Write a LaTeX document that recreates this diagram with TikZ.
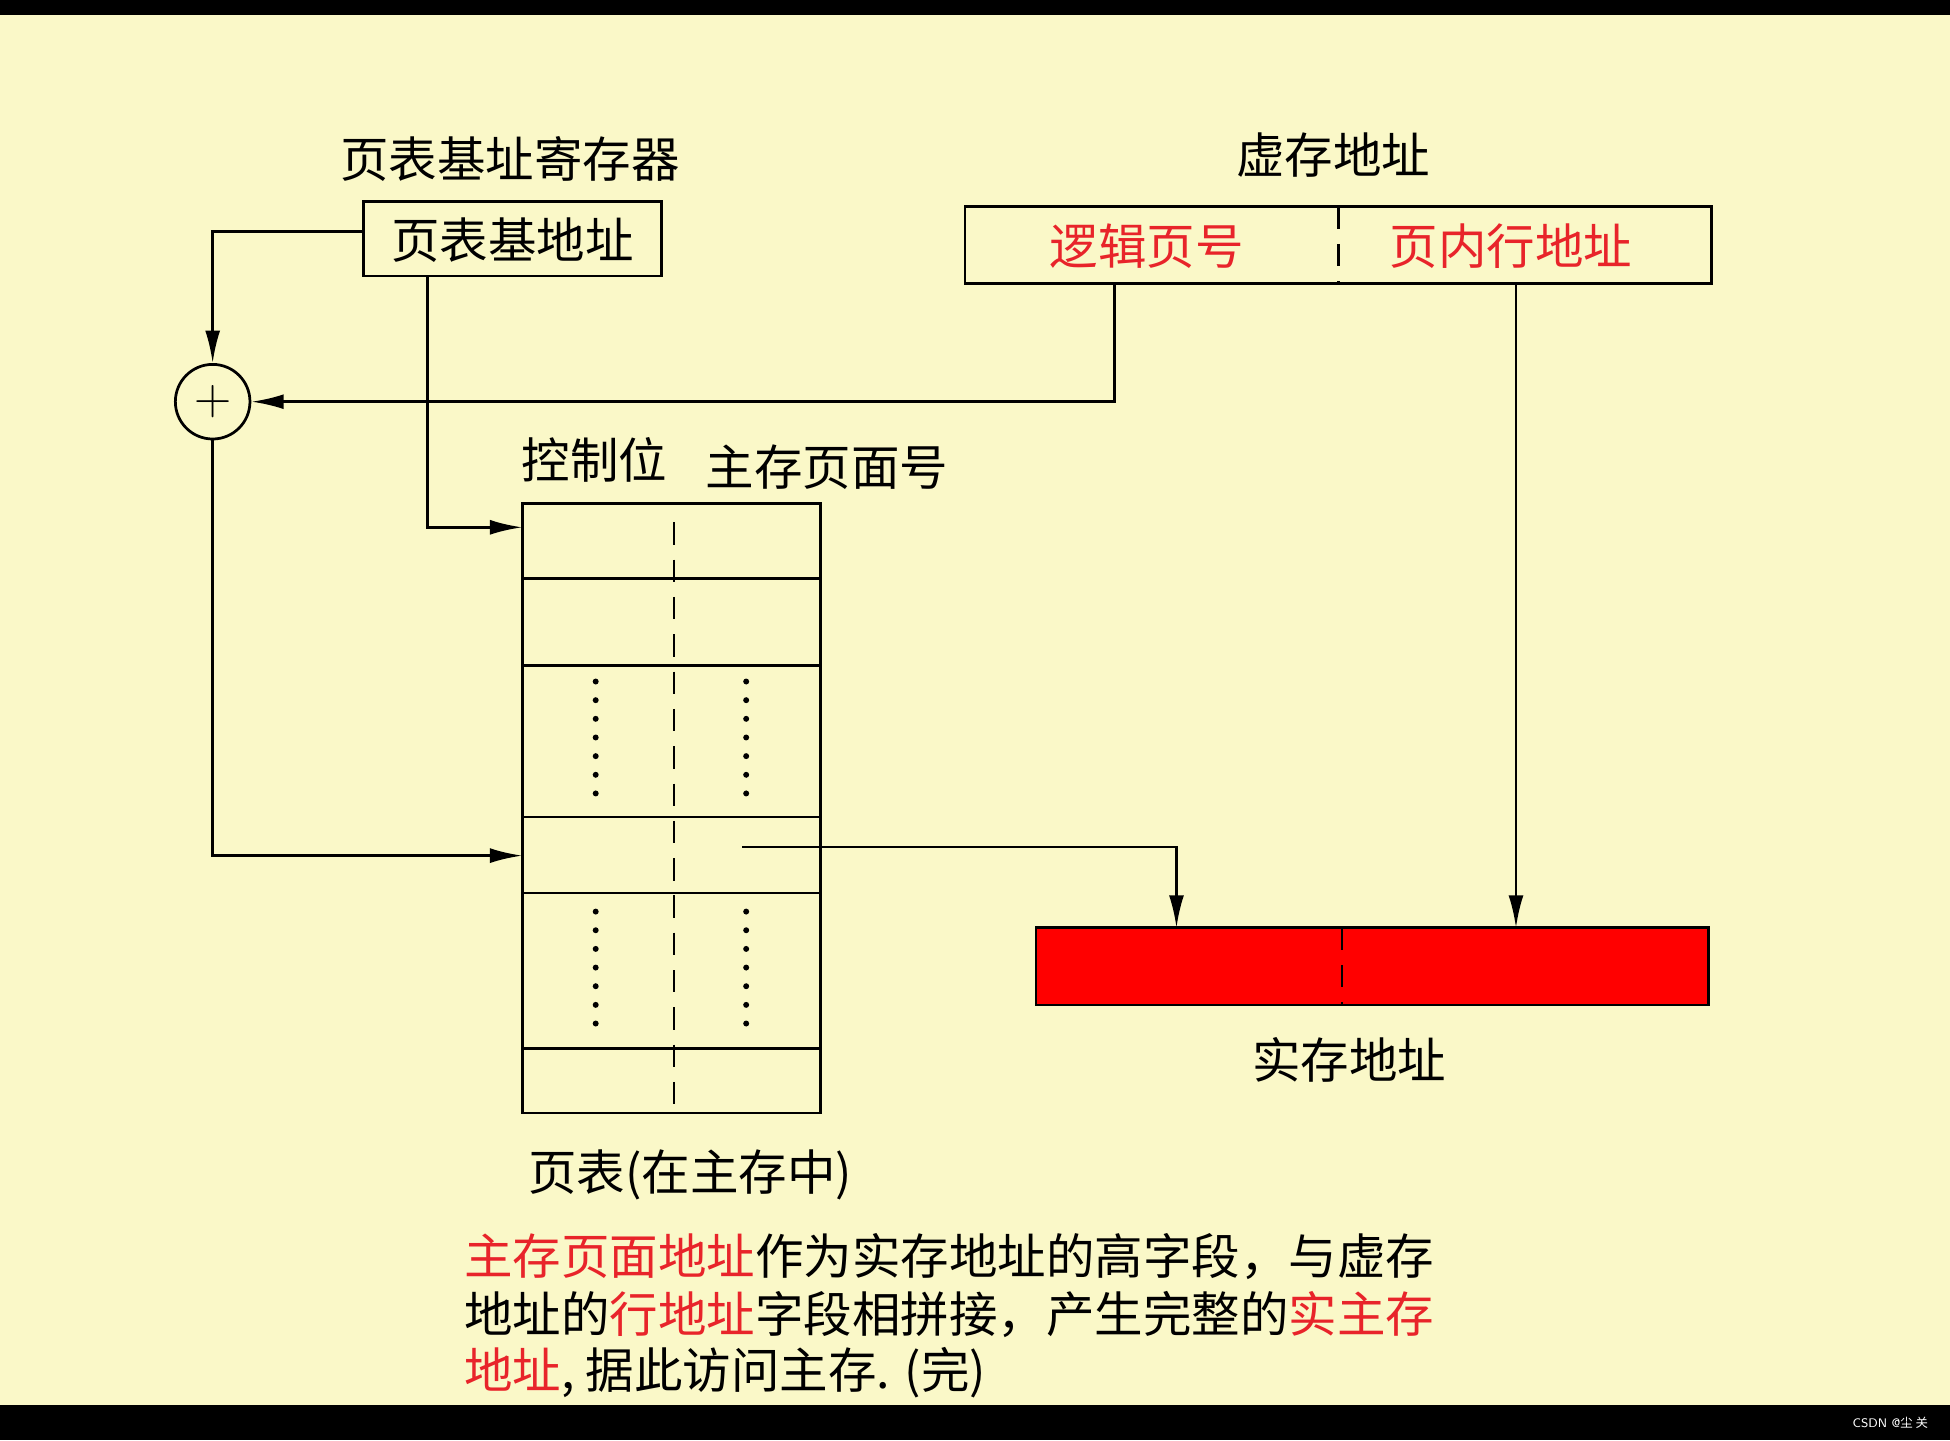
\documentclass[tikz,border=0pt]{standalone}
\usepackage{fontspec}
\newfontfamily\cjk{Noto Sans CJK SC}
\usetikzlibrary{arrows.meta}
\definecolor{bg}{HTML}{FAF8C8}
\definecolor{rd}{HTML}{E8242A}
\begin{document}
\begin{tikzpicture}[x=0.5pt,y=-0.5pt,
  txt/.style={font=\cjk\fontsize{19.5}{22}\selectfont,inner sep=0pt},
  rtxt/.style={txt,text=rd},
  ln/.style={line width=1.1pt},
  arr/.style={ln,-{Latex[length=13pt,width=6pt]}},
  dsh/.style={line width=1.1pt,dash pattern=on 9pt off 6pt}]
\fill[bg] (0,0) rectangle (1568,1158);
\fill[black] (0,0) rectangle (1568,12);
\fill[black] (0,1130) rectangle (1568,1158);
\node[font=\sffamily\fontsize{5}{6}\selectfont,text=white] (csdn) at (1520,1144) {CSDN @\cjk 尘 关};
% register
\node[txt] (regt) at (410,128) {页表基址寄存器};
\draw[ln] (292,162) rectangle (532,222);
\node[txt] (reg) at (412,193) {页表基地址};
% virtual address
\node[txt] (vt) at (1072,125) {虚存地址};
\draw[ln] (776,166) rectangle (1376,228);
\draw[dsh] (1076,166) -- (1076,228);
\node[rtxt] (lp) at (922,198) {逻辑页号};
\node[rtxt] (po) at (1215,198) {页内行地址};
% adder
\node[draw,circle,ln,minimum size=30pt,inner sep=0pt] (add) at (171,323) {\fontsize{22}{22}\selectfont$+$};
\draw[arr] (292,186) -- (171,186) -- (add.north);
\draw[arr] (896,228) -- (896,323) -- (add.east);
% table
\node[txt] (cb) at (478,370) {控制位};
\node[txt] (pn) at (665,376) {主存页面号};
\draw[ln] (420,405) rectangle (660,895);
\foreach \y in {465,535,657,718,843} \draw[ln] (420,\y) -- (660,\y);
\draw[dsh] (542,420) -- (542,895);
\foreach \x in {479,600}{
  \foreach \y in {548,563,...,638} \fill (\x,\y) circle (2.4);
  \foreach \y in {733,748,...,823} \fill (\x,\y) circle (2.4);}
\draw[arr] (344,222) -- (344,424) -- (420,424);
\draw[arr] (add.south) -- (171,688) -- (420,688);
% real address
\fill[red] (833,746) rectangle (1374,808);
\draw[ln] (833,746) rectangle (1374,808);
\draw[dsh] (1079,746) -- (1079,808);
\draw[arr] (597,681) -- (946,681) -- (946,746);
\draw[arr] (1219,228) -- (1219,746);
\node[txt] (rt) at (1085,852) {实存地址};
\node[txt] (tt) at (555,945) {页表(在主存中)};
\node[txt,anchor=west] (p1) at (373,1010) {\textcolor{rd}{主存页面地址}作为实存地址的高字段，与虚存};
\node[txt,anchor=west] (p2) at (373,1057) {地址的\textcolor{rd}{行地址}字段相拼接，产生完整的\textcolor{rd}{实主存}};
\node[txt,anchor=west] (p3) at (373,1104) {\textcolor{rd}{地址}, 据此访问主存. (完)};
\end{tikzpicture}
\end{document}
